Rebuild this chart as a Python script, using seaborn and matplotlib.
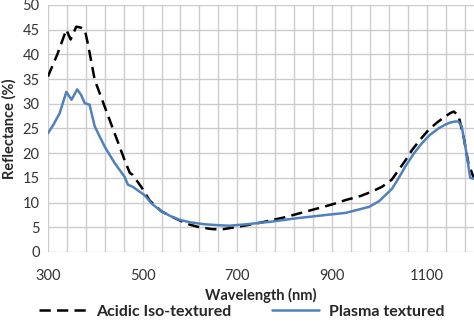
import numpy as np
import pandas as pd
import matplotlib
matplotlib.use("Agg")
import matplotlib.pyplot as plt
import seaborn as sns
from matplotlib.lines import Line2D

# Reflectance spectra
acid_nm = [300, 320, 339, 348, 360, 370, 378, 385, 399, 420, 441, 462, 473, 479, 497,
           515, 540, 560, 578, 600, 620, 648, 670, 690, 720, 753, 800, 858, 900, 929,
           960, 984, 1006, 1026, 1041, 1055, 1069, 1087, 1104, 1122, 1139, 1150, 1157,
           1167, 1178, 1188, 1197, 1200]
acid_r = [35.5, 40.0, 45.0, 43.0, 45.6, 45.4, 45.0, 41.9, 34.8, 29.4, 24.0, 18.6, 16.0,
          15.6, 13.2, 10.4, 8.2, 7.2, 6.4, 5.5, 5.0, 4.6, 4.6, 4.9, 5.4, 6.0, 7.0, 8.5,
          9.6, 10.5, 11.3, 12.2, 13.2, 14.6, 16.6, 18.5, 20.6, 22.8, 24.7, 26.2, 27.4,
          28.1, 28.4, 27.7, 23.3, 18.0, 15.6, 15.0]

plasma_nm = [300, 312, 325, 339, 350, 362, 370, 378, 388, 399, 420, 441, 462, 469, 479,
             504, 520, 540, 560, 578, 600, 630, 660, 683, 720, 770, 824, 880, 929, 978,
             1000, 1014, 1027, 1040, 1055, 1072, 1090, 1107, 1125, 1140, 1150, 1160,
             1167, 1174, 1183, 1192, 1200]
plasma_r = [24.0, 25.8, 28.1, 32.4, 30.8, 32.9, 31.8, 30.1, 29.8, 25.4, 21.3, 18.0, 15.2,
            13.6, 13.2, 11.5, 9.7, 8.2, 7.2, 6.5, 6.0, 5.6, 5.4, 5.3, 5.6, 6.1, 6.8,
            7.4, 7.9, 9.1, 10.3, 11.6, 12.8, 14.8, 17.3, 19.8, 22.0, 23.7, 25.0, 25.8,
            26.2, 26.4, 26.4, 25.4, 20.6, 15.0, 14.8]

df = pd.concat([
    pd.DataFrame({"nm": acid_nm, "R": acid_r, "sample": "Acidic Iso-textured"}),
    pd.DataFrame({"nm": plasma_nm, "R": plasma_r, "sample": "Plasma textured"}),
])

sns.set_style("white")
plt.rcParams["font.family"] = ["Lato", "DejaVu Sans"]

fig = plt.figure(figsize=(4.74, 3.28), dpi=100)
ax = fig.add_axes([0.101, 0.232, 0.899, 0.753])

sns.lineplot(data=df, x="nm", y="R", hue="sample", style="sample",
             palette={"Acidic Iso-textured": "black", "Plasma textured": "#4f81bd"},
             dashes={"Acidic Iso-textured": (4.5, 2.5), "Plasma textured": ""},
             linewidth=1.8, ax=ax, legend=False, sort=False)

ax.set_xlim(300, 1200)
ax.set_ylim(0, 50)
ax.set_xticks(np.arange(300, 1201, 40), minor=True)
ax.set_xticks([300, 500, 700, 900, 1100])
ax.set_yticks(np.arange(0, 51, 5))
ax.grid(True, which="both", color="#cccccc", linewidth=1.0)
ax.set_axisbelow(True)
for s in ax.spines.values():
    s.set_visible(False)
ax.tick_params(which="both", length=0)
ax.tick_params(axis="x", labelsize=10.5, pad=12, colors="#333333")
ax.tick_params(axis="y", labelsize=10.5, pad=6, colors="#333333")

ax.set_xlabel("Wavelength (nm)", fontsize=10.5, fontweight="bold", labelpad=4)
ax.set_ylabel("Reflectance (%)", fontsize=10.5, fontweight="bold", labelpad=4)

handles = [Line2D([], [], color="black", lw=1.8, dashes=(4.5, 2.5)),
           Line2D([], [], color="#4f81bd", lw=1.8)]
fig.legend(handles, ["Acidic Iso-textured", "Plasma textured"], loc="lower center",
           bbox_to_anchor=(0.51, -0.015), ncol=2, frameon=False,
           prop={"weight": "bold", "size": 11.5}, handlelength=3, columnspacing=2.5,
           handletextpad=0.6)

fig.savefig("out.png", dpi=100)
